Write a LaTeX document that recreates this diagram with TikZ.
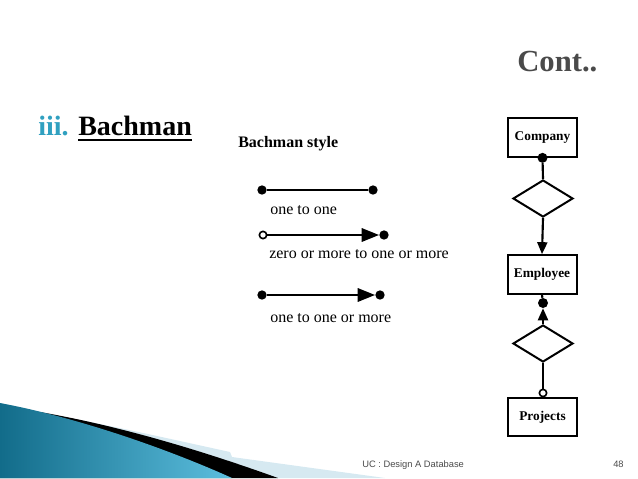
\documentclass[tikz,border=0pt]{standalone}
\usepackage{fontspec}
\setmainfont{Liberation Serif}
\newfontfamily\footfont{Liberation Sans}
\usetikzlibrary{positioning, arrows.meta, shapes.geometric}
\definecolor{slideteal}{RGB}{48,160,192}
\definecolor{tealdark}{RGB}{18,108,138}
\definecolor{teallight}{RGB}{92,190,222}
\definecolor{lightsky}{RGB}{214,233,241}
\definecolor{contgray}{RGB}{74,74,74}

\begin{document}
\begin{tikzpicture}[x=0.75pt, y=-0.75pt,
                entity/.style={draw, line width=1.5pt, minimum width=51.75pt, minimum height=29pt,
                        inner sep=0pt, font=\bfseries\fontsize{10}{12}\selectfont},
                rel/.style={draw, diamond, aspect=1.62, minimum width=45pt, minimum height=27.75pt,
                        inner sep=0pt, line width=1.5pt},
                fdot/.style={circle, fill, inner sep=0pt, minimum size=7pt},
                odot/.style={circle, draw, fill=white, inner sep=0pt, minimum size=5.5pt, line width=1.2pt},
                bline/.style={line width=1.6pt},
                leg/.style={anchor=base west, inner sep=0pt, font=\fontsize{12}{14}\selectfont}]
                \useasboundingbox (0,0) rectangle (638,478);

                % Corner swoosh
                \fill[lightsky] (60,416) .. controls (130,430) .. (230,452) -- (232,457) -- (385,478) -- (0,478) -- cycle;
                \fill[black] (40,412) .. controls (120,426) and (200,450) .. (278,478) -- (0,478) -- cycle;
                \shade[left color=tealdark, right color=teallight, shading angle=90]
                    (0,403) .. controls (80,418) and (170,450) .. (232,478) -- (0,478) -- cycle;

                % Titles
                \node[anchor=base west, inner sep=0pt, text=slideteal, font=\bfseries\fontsize{21}{25}\selectfont]
                    (num) at (38,135) {iii.};
                \node[anchor=base west, inner sep=0pt, font=\bfseries\fontsize{21}{25}\selectfont]
                    (bach) at (78,135) {Bachman};
                \draw[line width=1.5pt] ([yshift=-4pt]bach.base west) -- ([yshift=-4pt]bach.base east);
                \node[anchor=base west, inner sep=0pt, text=contgray, font=\bfseries\fontsize{23}{27}\selectfont]
                    (cont) at (517,71) {Cont..};

                % Legend
                \node[leg, font=\bfseries\fontsize{12}{14}\selectfont] (style) at (238,147) {Bachman style};
                \node[fdot] (a1) at (262,190) {};
                \node[fdot] (b1) at (373,190) {};
                \draw[bline] (a1) -- (b1);
                \node[leg] (l1) at (270,214) {one to one};

                \node[odot] (a2) at (263,235) {};
                \node[fdot] (b2) at (384,235) {};
                \draw[bline, -{Triangle[length=13pt, width=10pt]}] (a2.east) -- (b2.west);
                \node[leg] (l2) at (269,258) {zero or more to one or more};

                \node[fdot] (a3) at (262,295) {};
                \node[fdot] (b3) at (380,295) {};
                \draw[bline, -{Triangle[length=13pt, width=10pt]}] (a3) -- (b3.west);
                \node[leg] (l3) at (270,322) {one to one or more};

                % Company - Employee - Projects
                \node[entity] (comp) at (542.5,137.5) {Company};
                \node[fdot, minimum size=7.5pt] (cdot) at (comp.south) {};
                \node[rel] (r1) at (543,198.5) {};
                \draw[bline] (cdot) -- (r1.north);
                \node[entity] (emp) at (542,274.5) {Employee};
                \draw[bline, -{Triangle[length=9pt, width=7.5pt]}] (r1.south) -- (emp.north);

                \node[fdot, minimum size=7.5pt] (edot) at (543,303) {};
                \draw[bline] (emp.south) -- (edot);
                \node[rel] (r2) at (543,343.5) {};
                \draw[bline, -{Triangle[length=9pt, width=7.5pt]}] (r2.north) -- (edot.south);
                \node[entity] (proj) at (542.5,417) {Projects};
                \node[odot] (pdot) at (543,393) {};
                \draw[bline] (r2.south) -- (pdot.north);
                \draw[bline] (pdot.south) -- (proj.north);

                % Footer
                \node[anchor=base west, inner sep=0pt, text=contgray, font=\footfont\fontsize{7}{8}\selectfont]
                    (foot) at (362,467) {UC : Design A Database};
                \node[anchor=base west, inner sep=0pt, text=contgray, font=\footfont\fontsize{7}{8}\selectfont]
                    (page) at (613,467) {48};
            \end{tikzpicture}
\end{document}
